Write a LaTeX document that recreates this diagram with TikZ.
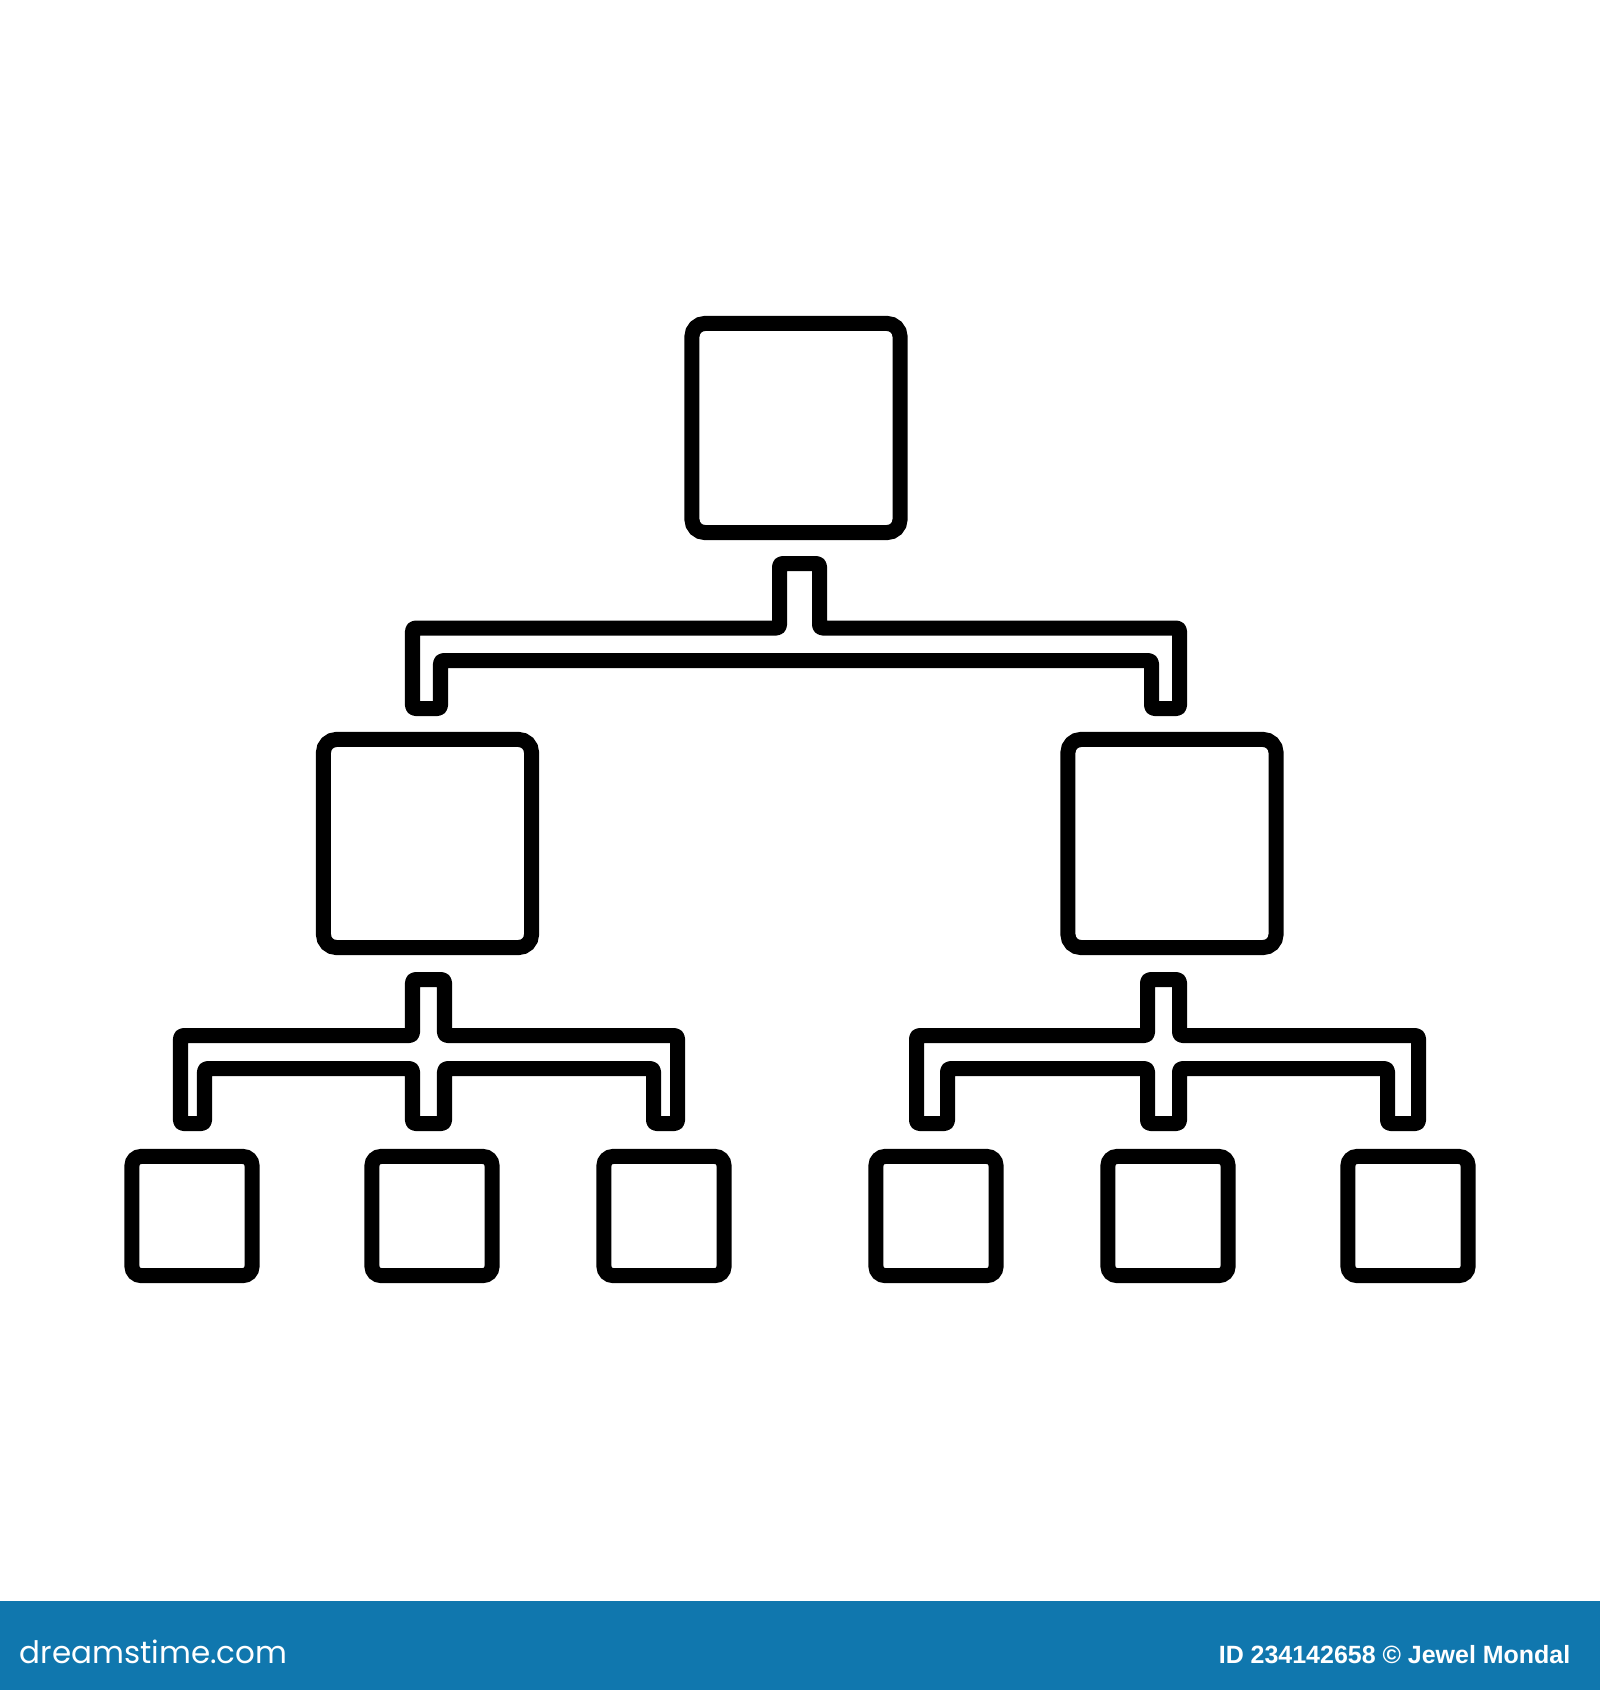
\documentclass[tikz,border=0pt]{standalone}
\usepackage{fontspec}
\newfontfamily\logofont{Poppins}
\newfontfamily\idfont{Liberation Sans}
\definecolor{bannerblue}{RGB}{16,119,174}

\begin{document}
\begin{tikzpicture}[
    x=0.01cm, y=-0.01cm,
    orgbox/.style={draw, rectangle, rounded corners=0.13cm, line width=0.15cm,
        minimum width=2.08cm, minimum height=2.08cm, inner sep=0pt},
    leafbox/.style={orgbox, rounded corners=0.09cm, minimum width=1.2cm, minimum height=1.19cm},
    link/.style={draw, line width=0.15cm, line join=round, rounded corners=0.03cm},
]
\useasboundingbox (0,0) rectangle (1600,1690);

% Top box and the two middle boxes
\node[orgbox, minimum height=2.09cm] (top) at (796,428) {};
\node[orgbox] (left) at (427.5,843.5) {};
\node[orgbox] (right) at (1172,843.5) {};

% Leaf boxes, three under each middle box
\foreach \i/\x in {1/192, 2/432, 3/664, 4/936, 5/1168, 6/1408} {
    \node[leafbox] (leaf\i) at (\x,1216) {};
}

% Top connector (stem and bracket drawn as one outline)
\draw[link] (779.5,563.5) -- (779.5,628) -- (412.5,628) -- (412.5,708.5)
    -- (440.5,708.5) -- (440.5,660.5) -- (1151.5,660.5) -- (1151.5,708.5)
    -- (1179.5,708.5) -- (1179.5,628) -- (819.5,628) -- (819.5,563.5) -- cycle;

% Lower connectors: left end, left foot, stem, right foot, right end
\foreach \a/\b/\c/\d/\e/\f in {180.5/204.5/412.5/444.5/653.5/677.5,
                               916.5/947.5/1147.5/1179.5/1387.5/1418.5} {
    \draw[link] (\c,979.5) -- (\c,1035.5) -- (\a,1035.5) -- (\a,1123.5)
        -- (\b,1123.5) -- (\b,1068.5) -- (\c,1068.5) -- (\c,1123.5)
        -- (\d,1123.5) -- (\d,1068.5) -- (\e,1068.5) -- (\e,1123.5)
        -- (\f,1123.5) -- (\f,1035.5) -- (\d,1035.5) -- (\d,979.5) -- cycle;
}

% Banner
\fill[bannerblue] (0,1601) rectangle (1600,1690);
\node[anchor=base west, inner sep=0pt, text=white,
    font=\logofont\fontsize{8.8pt}{10pt}\selectfont] (logo) at (19,1663) {dreamstime.com};
\node[anchor=base east, inner sep=0pt, text=white,
    font=\idfont\bfseries\fontsize{7.1pt}{8pt}\selectfont] (credit) at (1571,1663)
    {ID 234142658 © Jewel Mondal};

\end{tikzpicture}
\end{document}
